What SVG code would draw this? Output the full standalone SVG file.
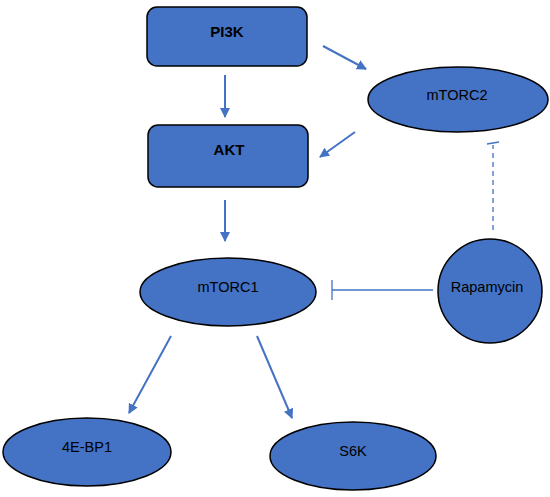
<svg xmlns="http://www.w3.org/2000/svg" width="550" height="497" viewBox="0 0 550 497">
<defs>
<style>
.node{fill:#4472C4;stroke:#000;stroke-width:1.5}
.lbl{font-family:"Liberation Sans",Arial,sans-serif;font-size:14.5px;fill:#000;text-anchor:middle}
.b{font-weight:bold;font-size:15px}
.edge{stroke:#4472C4;stroke-width:2;fill:none}
.thin{stroke:#4472C4;stroke-width:1.3;fill:none}
</style>
<marker id="arr" viewBox="0 0 10 10" refX="9" refY="5" markerWidth="5" markerHeight="5" orient="auto" markerUnits="strokeWidth">
<path d="M0,0 L10,5 L0,10 z" fill="#4472C4"/>
</marker>
</defs>
<rect width="550" height="497" fill="#fff"/>
<g id="connectors">
<line class="edge" x1="225" y1="75" x2="225" y2="117" marker-end="url(#arr)"/>
<line class="edge" x1="323" y1="46" x2="366" y2="69" marker-end="url(#arr)"/>
<line class="edge" x1="355" y1="132" x2="320" y2="157" marker-end="url(#arr)"/>
<line class="edge" x1="225" y1="200" x2="225" y2="241" marker-end="url(#arr)"/>
<line class="edge" x1="171" y1="336" x2="129" y2="413" marker-end="url(#arr)"/>
<line class="edge" x1="257" y1="336" x2="292" y2="418" marker-end="url(#arr)"/>
<line class="thin" x1="433" y1="290" x2="332" y2="290"/>
<line class="thin" x1="332" y1="280" x2="332" y2="300"/>
<line class="thin" x1="493" y1="230" x2="493" y2="145" stroke-dasharray="5,4"/>
<line class="thin" x1="487" y1="144" x2="499" y2="142"/>
</g>
<g id="PI3K"><rect class="node" x="147" y="7" width="160" height="59" rx="10"/><text class="lbl b" x="227" y="37">PI3K</text></g>
<g id="AKT"><rect class="node" x="148" y="125" width="160" height="62" rx="10"/><text class="lbl b" x="229" y="155">AKT</text></g>
<g id="mTORC2"><ellipse class="node" cx="458" cy="99.5" rx="90" ry="32.5"/><text class="lbl" x="457" y="100">mTORC2</text></g>
<g id="mTORC1"><ellipse class="node" cx="228" cy="292" rx="88" ry="34"/><text class="lbl" x="228" y="292">mTORC1</text></g>
<g id="Rapamycin"><circle class="node" cx="490" cy="291" r="52"/><text class="lbl" x="487" y="292">Rapamycin</text></g>
<g id="4E-BP1"><ellipse class="node" cx="87" cy="452" rx="84" ry="34"/><text class="lbl" x="87" y="452">4E-BP1</text></g>
<g id="S6K"><ellipse class="node" cx="353" cy="456" rx="83" ry="34"/><text class="lbl" x="353" y="456">S6K</text></g>
</svg>
